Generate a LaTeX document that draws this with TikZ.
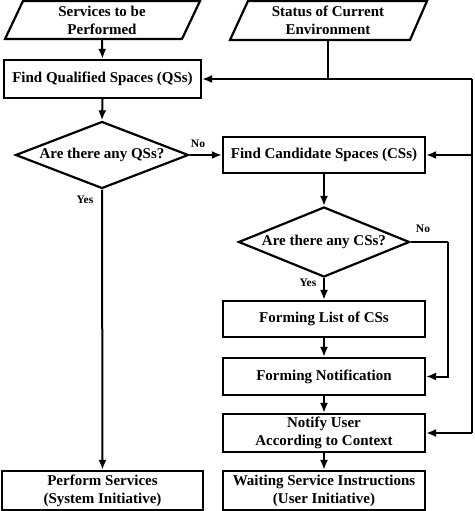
\documentclass[tikz,border=0pt]{standalone}
\usepackage{fontspec}
\setmainfont{Liberation Serif}
\usetikzlibrary{arrows.meta,shapes.geometric}
\begin{document}
\begin{tikzpicture}[x=1pt,y=-1pt,
  txt/.style={align=center,font=\bfseries\fontsize{15}{18}\selectfont,inner sep=0pt},
  box/.style={txt,draw,line width=2.2pt,rectangle},
  dec/.style={txt,draw,line width=2.2pt,diamond,aspect=2.6},
  lab/.style={font=\bfseries\fontsize{11.5}{13}\selectfont,inner sep=0pt},
  arr/.style={-{Latex[length=10pt,width=8pt]},line width=2pt},
  ln/.style={line width=2pt}]
\useasboundingbox (0,0) rectangle (474,511);
% inputs
\draw[line width=2.2pt] (23,1) -- (200,1) -- (182,39) -- (5,39) -- cycle;
\node[txt] (p1) at (102,20) {Services to be\\Performed};
\draw[line width=2.2pt] (248,1) -- (427,1) -- (410,40) -- (230,40) -- cycle;
\node[txt] (p2) at (328,20) {Status of Current\\Environment};
\coordinate (p1b) at (102,39);
\coordinate (p2b) at (328,40);
% process nodes
\node[box,minimum width=197pt,minimum height=38pt] (qs) at (102.5,79) {Find Qualified Spaces (QSs)};
\node[dec,minimum width=173pt,minimum height=67pt] (dq) at (102,155) {Are there any QSs?};
\node[box,minimum width=202pt,minimum height=36pt] (cs) at (324,155) {Find Candidate Spaces (CSs)};
\node[dec,minimum width=171pt,minimum height=70pt] (dc) at (324,242) {Are there any CSs?};
\node[box,minimum width=202pt,minimum height=36pt] (fl) at (324,319) {Forming List of CSs};
\node[box,minimum width=202pt,minimum height=37pt] (fn) at (324,376.5) {Forming Notification};
\node[box,minimum width=202pt,minimum height=38pt] (nu) at (324,433) {Notify User\\According to Context};
\node[box,minimum width=202pt,minimum height=39pt] (ws) at (324,490.5) {Waiting Service Instructions\\(User Initiative)};
\node[box,minimum width=201pt,minimum height=39pt] (ps) at (102.5,490.5) {Perform Services\\(System Initiative)};
% connectors
\coordinate (rtop) at (472,79);
\coordinate (rbot) at (472,433);
\coordinate (nocs) at (448,242);
\draw[arr] (p1b) -- (qs.north);
\draw[arr] (p2b) |- (qs.east);
\draw[ln] (rtop) -- (rbot);
\draw[ln] (rtop) -- (p2b |- rtop);
\draw[arr] (rtop |- cs.east) -- (cs.east);
\draw[arr] (rbot) -- (nu.east);
\draw[arr] (qs.south) -- (dq.north);
\draw[arr] (dq.east) -- (cs.west);
\draw[arr] (dq.south) -- (ps.north);
\draw[arr] (cs.south) -- (dc.north);
\draw[arr] (dc.south) -- (fl.north);
\draw[ln] (dc.east) -- (nocs);
\draw[arr] (nocs) |- (fn.east);
\draw[arr] (fl.south) -- (fn.north);
\draw[arr] (fn.south) -- (nu.north);
\draw[arr] (nu.south) -- (ws.north);
% labels
\node[lab] (lno1) at (198,144) {No};
\node[lab] (lyes1) at (85,200) {Yes};
\node[lab] (lno2) at (423,229) {No};
\node[lab] (lyes2) at (308,283) {Yes};
\end{tikzpicture}
\end{document}
